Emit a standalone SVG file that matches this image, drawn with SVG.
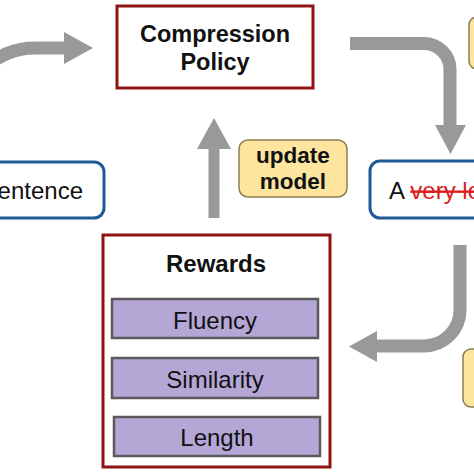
<svg xmlns="http://www.w3.org/2000/svg" width="474" height="474" viewBox="0 0 474 474">
<style>
.policy{fill:#fff;stroke:#8e1414;stroke-width:3}
.sent{fill:#fff;stroke:#1f5a96;stroke-width:3}
.note{fill:#fde5a0;stroke:#8c7c52;stroke-width:1.5}
.rew{fill:#b4a7d6;stroke:#5a5a5a;stroke-width:2.5}
.shaft{fill:none;stroke:#999;stroke-width:13}
.head{fill:#999}
.t{font-family:"Liberation Sans",Arial,sans-serif;font-size:24px;fill:#111;text-anchor:middle}
.b{font-weight:bold}
</style>
<rect width="474" height="474" fill="#fff"/>
<g id="connectors">
<path class="shaft" d="M -20,70 C 0,55 15,48 35,48 L 66,48"/>
<polygon class="head" points="64,32 93,48 64,64"/>
<path class="shaft" d="M 350,43.5 L 424,43.5 A 26,26 0 0 1 450,69.5 L 450,127"/>
<polygon class="head" points="435,125 466,125 450.5,154"/>
<path class="shaft" d="M 214,218 L 214,147" style="stroke-width:11"/>
<polygon class="head" points="197,149 231,149 214,118"/>
<path class="shaft" d="M 460,245 L 460,310 A 36,36 0 0 1 424,346 L 375,346"/>
<polygon class="head" points="377,331 377,362 349,346.5"/>
</g>
<g id="policy">
<rect class="policy" x="117" y="6" width="196" height="82"/>
<text class="t b" x="215" y="42" style="font-size:23.5px">Compression</text>
<text class="t b" x="215" y="70" style="font-size:23.5px">Policy</text>
</g>
<g id="input-sentence">
<rect class="sent" x="-30" y="162" width="134" height="56" rx="10"/>
<text class="t" x="83" y="199" style="text-anchor:end">entence</text>
</g>
<g id="update-model">
<rect class="note" x="239" y="140" width="108" height="57" rx="9"/>
<text class="t b" x="293" y="163" style="font-size:22.5px">update</text>
<text class="t b" x="293" y="189" style="font-size:22.5px">model</text>
</g>
<g id="compressed-sentence">
<rect class="sent" x="370" y="161" width="140" height="57" rx="10"/>
<text class="t" x="389" y="199" style="text-anchor:start">A <tspan fill="#d81e1e" text-decoration="line-through">very lo</tspan></text>
</g>
<g id="note-top-right">
<rect class="note" x="469" y="17" width="40" height="52" rx="8"/>
</g>
<g id="note-bottom-right">
<rect class="note" x="463" y="349" width="40" height="58" rx="8"/>
</g>
<g id="rewards">
<rect class="policy" x="103" y="235" width="227" height="232"/>
<text class="t b" x="216" y="272">Rewards</text>
</g>
<g id="fluency">
<rect class="rew" x="112" y="299" width="206" height="39"/>
<text class="t" x="215" y="329">Fluency</text>
</g>
<g id="similarity">
<rect class="rew" x="112" y="358" width="206" height="40"/>
<text class="t" x="215" y="388">Similarity</text>
</g>
<g id="length">
<rect class="rew" x="114" y="417" width="206" height="39"/>
<text class="t" x="217" y="446">Length</text>
</g>
</svg>
